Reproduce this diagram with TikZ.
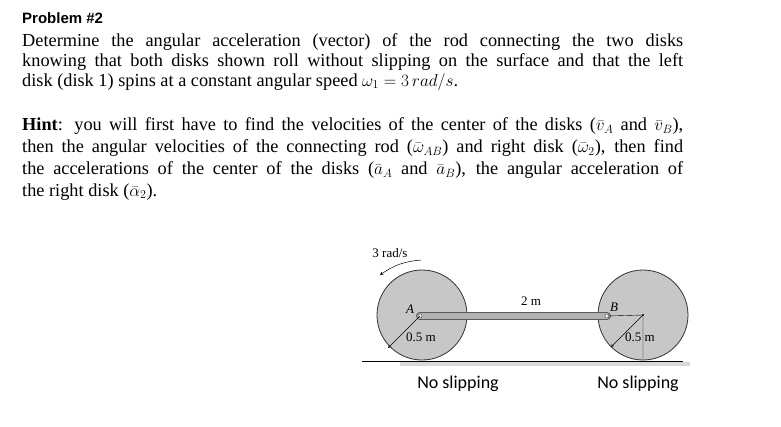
\documentclass[tikz,border=0pt]{standalone}
\usepackage{fontspec}
\setmainfont{Liberation Serif}
\newfontfamily\hsans{Liberation Sans}
\newfontfamily\csans{Carlito}
\usetikzlibrary{calc}
\begin{document}
\begin{tikzpicture}[x=1pt,y=-1pt,
  ln/.style={anchor=west,inner sep=0pt,font=\fontsize{18.3}{20}\selectfont},
  disk/.style={draw=black!80,line width=0.8pt,fill=black!22},
  lab/.style={inner sep=0pt,font=\fontsize{13}{15}\selectfont},
  big/.style={inner sep=0pt,font=\csans\fontsize{18}{20}\selectfont}]
\useasboundingbox (0,0) rectangle (781,426);
\node[ln,font=\hsans\bfseries\fontsize{15}{18}\selectfont] (t) at (22,18) {Problem \#2};
\node[ln] (l1) at (22,42) {\makebox[661pt][s]{Determine the angular acceleration (vector) of the rod connecting the two disks}};
\node[ln] (l2) at (22,62) {\makebox[661pt][s]{knowing that both disks shown roll without slipping on the surface and that the left}};
\node[ln] (l3) at (22,82) {disk (disk 1) spins at a constant angular speed $\omega_1=3\,rad/s$.};
\node[ln] (h1) at (22,126) {\makebox[661pt][s]{\textbf{Hint}: you will first have to find the velocities of the center of the disks ($\bar v_A$ and $\bar v_B$),}};
\node[ln] (h2) at (22,148) {\makebox[661pt][s]{then the angular velocities of the connecting rod ($\bar\omega_{AB}$) and right disk ($\bar\omega_2$), then find}};
\node[ln] (h3) at (22,170) {\makebox[661pt][s]{the accelerations of the center of the disks ($\bar a_A$ and $\bar a_B$), the angular acceleration of}};
\node[ln] (h4) at (22,192) {the right disk ($\bar\alpha_2$).};
% ground shadow
\fill[black!15] (400,362) rectangle (690,366);
% ground
\draw[line width=0.6pt] (362,361) coordinate (g1) -- (683,361) coordinate (g2);
% disks
\node[disk,circle,minimum size=90pt,inner sep=0pt] (d1) at (422,315) {};
\node[disk,circle,minimum size=90pt,inner sep=0pt] (d2) at (643,315) {};
% rod
\coordinate (A) at (420,316);
\coordinate (B) at (607,316);
\draw[line width=8pt,black!65,line cap=round] (A) -- (B);
\draw[line width=6pt,black!30,line cap=round] (A) -- (B);
\fill[white] (A) circle (2pt); \draw[black!70,line width=0.5pt] (A) circle (2pt);
\fill[white] (B) circle (2pt); \draw[black!70,line width=0.5pt] (B) circle (2pt);
\fill (d2.center) circle (1.2pt);
% dimensions
\draw[->,>=stealth,line width=0.4pt] (A) -- ++(-32,32);
\draw[line width=0.4pt] (B) -- (d2.center) -- ++(0,45);
\draw[->,>=stealth,line width=0.4pt] (d2.center) -- ++(-32,32);
\node[lab] (r1) at (421,337) {0.5 m};
\node[lab] (r2) at (640,337) {0.5 m};
\node[lab] (A1) at (410,309) {\textit{A}};
\node[lab] (B1) at (614,307) {\textit{B}};
\node[lab] (m2) at (531,301) {2 m};
\node[lab] (w) at (390,253) {3 rad/s};
\draw[->,>=stealth,line width=0.5pt] (421,260) to[bend right=15] (380,275);
\node[big] (n1) at (458,384) {No slipping};
\node[big] (n2) at (638,384) {No slipping};
\end{tikzpicture}
\end{document}
